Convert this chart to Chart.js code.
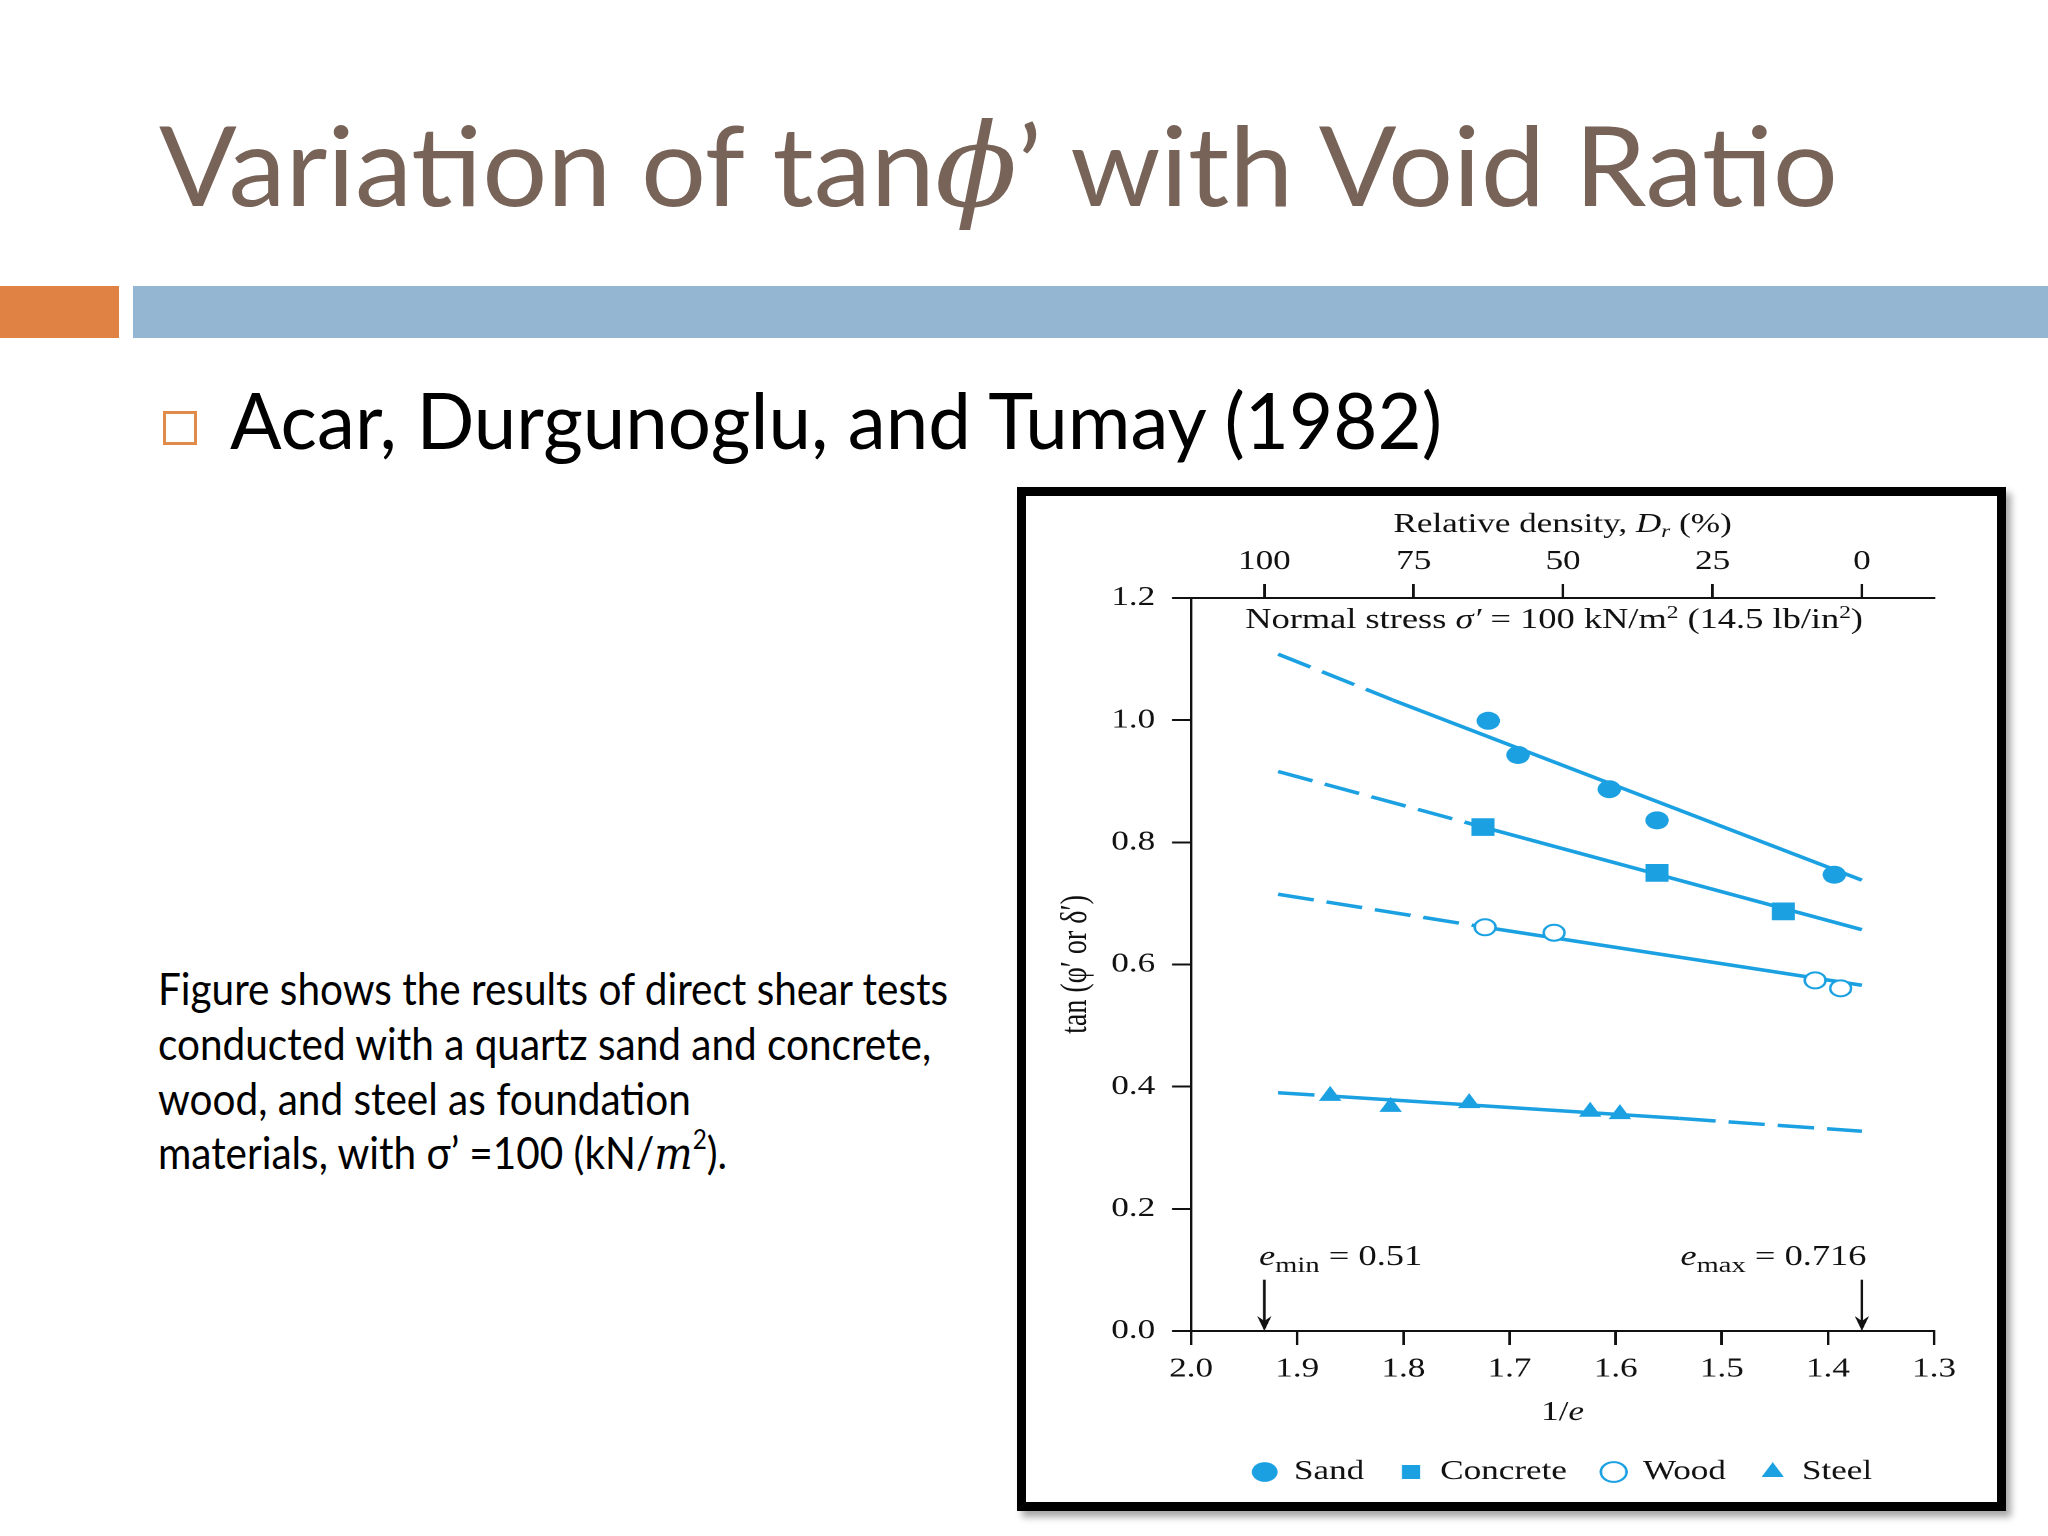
<!DOCTYPE html>
<html>
<head>
<meta charset="utf-8">
<title>Variation of tanϕ’ with Void Ratio</title>
<script src="https://cdn.jsdelivr.net/npm/chart.js@4.4.1/dist/chart.umd.min.js"></script>
<style>
  html, body { margin: 0; padding: 0; background: #fff; }
  body { width: 2048px; height: 1536px; position: relative; overflow: hidden; font-family: Lato, "Open Sans", sans-serif; }
  .abs { position: absolute; white-space: nowrap; transform-origin: left top; line-height: 1.2; }
  #title { left: 159px; top: 97px; font-size: 110px; color: #776358; }
  #title .phi { font-family: "DejaVu Serif", serif; font-style: italic; font-size: 1.05em; }
  #barL { position: absolute; left: 0; top: 286px; width: 119px; height: 52px; background: #df8244; }
  #barR { position: absolute; left: 133px; top: 286px; width: 1915px; height: 52px; background: #94b6d2; }
  #bullet { position: absolute; left: 163px; top: 411px; width: 34px; height: 34px; border: 3px solid #e08a4b; box-sizing: border-box; }
  #sub { left: 230px; top: 373px; font-size: 78px; color: #000; }
  #para { left: 158px; top: 961px; font-size: 44px; line-height: 54.8px; color: #000; }
  #para .m { font-family: "DejaVu Serif", serif; font-style: italic; }
  #para sup { font-size: 0.6em; vertical-align: 0.75em; line-height: 0; }
  #frame { position: absolute; left: 1017px; top: 487px; width: 989px; height: 1024px; border: 9px solid #000; box-sizing: border-box; box-shadow: 5px 6px 7px rgba(0,0,0,0.35); z-index: 2; }
  #analytics { position: absolute; left: 1026px; top: 496px; width: 747px; height: 1006px; transform: scaleX(1.3); transform-origin: left top; z-index: 1; }
</style>
</head>
<body>
<div id="title" class="abs fit" data-w="1679">Variation of tan<span class="phi">ϕ</span>’ with Void Ratio</div>
<div id="barL"></div><div id="barR"></div>
<div id="bullet"></div>
<div id="sub" class="abs fit" data-w="1212">Acar, Durgunoglu, and Tumay (1982)</div>
<div id="para" class="abs fit" data-w="790">Figure shows the results of direct shear tests<br>conducted with a quartz sand and concrete,<br>wood, and steel as foundation<br>materials, with σ’ =100 (kN/<span class="m">m</span><sup>2</sup>).</div>
<canvas id="analytics" width="747" height="1006"></canvas>
<div id="frame"></div>
<script>
const SERIF = '"Liberation Serif", "Times New Roman", serif';
const BLUE = '#1ba1e2';
const INK = '#111111';

// axes
const xTicks = [2.0, 1.9, 1.8, 1.7, 1.6, 1.5, 1.4, 1.3];
const yTicks = [0.0, 0.2, 0.4, 0.6, 0.8, 1.0, 1.2];
const drTicks = [100, 75, 50, 25, 0];
const drEndsAtX = [1.931, 1.368];   // 1/e under Dr = 100 and Dr = 0

// measured points, x = 1/e, y = tan
const materials = ['Sand', 'Concrete', 'Wood', 'Steel'];
const sandX = [1.720, 1.692, 1.606, 1.561, 1.394];
const sandY = [0.999, 0.943, 0.887, 0.836, 0.747];
const concreteX = [1.725, 1.561, 1.442];
const concreteY = [0.825, 0.750, 0.687];
const woodX = [1.723, 1.658, 1.412, 1.388];
const woodY = [0.661, 0.652, 0.574, 0.561];
const steelX = [1.869, 1.812, 1.738, 1.624, 1.596];
const steelY = [0.385, 0.367, 0.373, 0.359, 0.355];

// trend lines as drawn: ends and dashed/solid breaks
const sandLineX = [1.918, 1.810, 1.368];
const sandLineY = [1.108, 1.033, 0.738];
const sandLineDashed = [true, false];
const concreteLineX = [1.918, 1.725, 1.368];
const concreteLineY = [0.916, 0.825, 0.657];
const concreteLineDashed = [true, false];
const woodLineX = [1.918, 1.723, 1.368];
const woodLineY = [0.715, 0.661, 0.566];
const woodLineDashed = [true, false];
const steelLineX = [1.918, 1.871, 1.540, 1.368];
const steelLineY = [0.390, 0.385, 0.348, 0.327];
const steelLineDashed = [true, false, true];

// e_min / e_max markers
const eArrowX = [1.931, 1.368];
const eArrowTop = 0.084;
const eLabelX = [1.936, 1.539];
const eLabelY = 0.108;
const eNames = ['min', 'max'];
const eValues = ['0.51', '0.716'];

const pts = (xs, ys) => xs.map((v, i) => ({ x: v, y: ys[i] }));

const drPerUnit = (drTicks[0] - drTicks[drTicks.length - 1]) / (drEndsAtX[0] - drEndsAtX[1]);
const drMax = drTicks[0] + (xTicks[0] - drEndsAtX[0]) * drPerUnit;
const drMin = drTicks[drTicks.length - 1] - (drEndsAtX[1] - xTicks[xTicks.length - 1]) * drPerUnit;

const marker = (label, xs, ys, style, radius, fill, bw) => ({
  label, data: pts(xs, ys), pointStyle: style, pointRadius: radius, pointHoverRadius: radius,
  backgroundColor: fill, borderColor: BLUE, pointBorderWidth: bw, borderWidth: bw, order: 0
});

const trend = (xs, ys, dashed) => ({
  label: '', data: pts(xs, ys), showLine: true, borderColor: BLUE, borderWidth: 3.5,
  pointRadius: 0, pointHoverRadius: 0, order: 1,
  segment: { borderDash: c => dashed[c.p0DataIndex] ? [28, 10] : [] }
});

function rich(ctx, runs, x, y, align) {
  const fonts = runs.map(r => `${r[2] || 'normal'} ${r[1]}px ${SERIF}`);
  const widths = runs.map((r, i) => { ctx.font = fonts[i]; return ctx.measureText(r[0]).width; });
  const total = widths.reduce((a, b) => a + b, 0);
  let cx = align === 'center' ? x - total / 2 : x;
  runs.forEach((r, i) => {
    ctx.font = fonts[i];
    ctx.fillText(r[0], cx, y + (r[3] || 0));
    cx += widths[i];
  });
}

const notes = {
  id: 'notes',
  afterDraw(chart) {
    const { ctx, chartArea: a, scales: { x, y } } = chart;
    ctx.save();
    ctx.fillStyle = INK;
    ctx.strokeStyle = INK;
    ctx.textAlign = 'left';
    ctx.textBaseline = 'alphabetic';
    const cx = (a.left + a.right) / 2;

    rich(ctx, [['Relative density, ', 27], ['D', 27, 'italic'], ['r', 18, 'italic', 5], [' (%)', 27]], cx, a.top - 66, 'center');
    rich(ctx, [['Normal stress ', 28], ['σ′', 28, 'italic'], [' = 100 kN/m', 28], ['2', 18, 'normal', -10],
               [' (14.5 lb/in', 28], ['2', 18, 'normal', -10], [')', 28]],
         x.getPixelForValue(1.658), y.getPixelForValue(1.151), 'center');
    rich(ctx, [['1/', 27], ['e', 27, 'italic']], cx, a.bottom + 89, 'center');

    eArrowX.forEach((v, i) => {
      const px = x.getPixelForValue(v);
      const top = y.getPixelForValue(eArrowTop);
      const bot = y.getPixelForValue(0);
      ctx.lineWidth = 2;
      ctx.beginPath();
      ctx.moveTo(px, top);
      ctx.lineTo(px, bot - 8);
      ctx.stroke();
      ctx.beginPath();
      ctx.moveTo(px, bot);
      ctx.lineTo(px - 5.5, bot - 15);
      ctx.lineTo(px, bot - 10);
      ctx.lineTo(px + 5.5, bot - 15);
      ctx.closePath();
      ctx.fill();
      rich(ctx, [['e', 28, 'italic'], [eNames[i], 22, 'normal', 7], [' = ' + eValues[i], 28]],
           x.getPixelForValue(eLabelX[i]), y.getPixelForValue(eLabelY), 'left');
    });
    ctx.restore();
  }
};

const tickFont = { family: SERIF, size: 27 };
const axisLine = { display: true, color: INK, width: 2 };
const tickGrid = (len) => ({ display: true, drawOnChartArea: false, drawTicks: true, tickLength: len, color: INK, lineWidth: 2 });

new Chart(document.getElementById('analytics'), {
  type: 'scatter',
  data: {
    datasets: [
      marker('Sand', sandX, sandY, 'circle', 9, BLUE, 0),
      marker('Concrete', concreteX, concreteY, 'rect', 12.5, BLUE, 0),
      marker('Wood', woodX, woodY, 'circle', 8, '#ffffff', 2),
      marker('Steel', steelX, steelY, 'triangle', 10, BLUE, 0),
      trend(sandLineX, sandLineY, sandLineDashed),
      trend(concreteLineX, concreteLineY, concreteLineDashed),
      trend(woodLineX, woodLineY, woodLineDashed),
      trend(steelLineX, steelLineY, steelLineDashed)
    ]
  },
  options: {
    responsive: false,
    animation: false,
    devicePixelRatio: 2,
    layout: { padding: { left: 0, right: 48.5, top: 0, bottom: 6.5 } },
    plugins: {
      tooltip: { enabled: false },
      legend: {
        position: 'bottom',
        fullSize: false,
        labels: {
          usePointStyle: true,
          boxWidth: 18,
          boxHeight: 14,
          padding: 27,
          color: INK,
          font: { family: SERIF, size: 27 },
          filter: item => materials.includes(item.text)
        }
      }
    },
    scales: {
      x: {
        type: 'linear',
        position: 'bottom',
        reverse: true,
        min: xTicks[xTicks.length - 1],
        max: xTicks[0],
        afterBuildTicks: s => { s.ticks = xTicks.map(v => ({ value: v })); },
        afterFit: s => { s.height = 100.5; },
        ticks: { font: tickFont, color: INK, padding: 8, maxRotation: 0, callback: v => Number(v).toFixed(1) },
        grid: tickGrid(14),
        border: axisLine
      },
      x2: {
        type: 'linear',
        position: 'top',
        reverse: true,
        min: drMin,
        max: drMax,
        afterBuildTicks: s => { s.ticks = drTicks.map(v => ({ value: v })); },
        afterFit: s => { s.height = 102; },
        ticks: { font: tickFont, color: INK, padding: 6, maxRotation: 0, callback: v => String(v) },
        grid: tickGrid(14),
        border: axisLine
      },
      y: {
        type: 'linear',
        min: yTicks[0],
        max: yTicks[yTicks.length - 1],
        afterBuildTicks: s => { s.ticks = yTicks.map(v => ({ value: v })); },
        afterFit: s => { s.width = 127; },
        ticks: { font: tickFont, color: INK, padding: 13, callback: v => Number(v).toFixed(1) },
        grid: tickGrid(14.6),
        border: axisLine,
        title: { display: true, text: 'tan (φ′ or δ′)', color: INK, font: { family: SERIF, size: 28 }, padding: { top: 22, bottom: 0 } }
      }
    }
  },
  plugins: [notes]
});

function fitWidths() {
  document.querySelectorAll('.fit').forEach(el => {
    el.style.transform = 'none';
    const w = el.getBoundingClientRect().width;
    el.style.transform = `scaleX(${el.dataset.w / w})`;
  });
}
fitWidths();
if (document.fonts) document.fonts.ready.then(fitWidths);
</script>
</body>
</html>
